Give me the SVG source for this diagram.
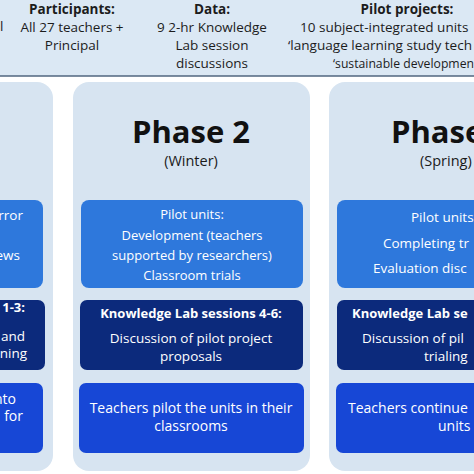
<svg xmlns="http://www.w3.org/2000/svg" width="474" height="474" viewBox="0 0 474 474">
<style>
text{font-family:"Open Sans","Noto Sans","Liberation Sans",sans-serif}
.band{fill:#dbe8f4}
.panel{fill:#d7e4f1}
.boxA{fill:#2e78dc}
.boxB{fill:#0c2a7c}
.boxC{fill:#1747d6}
.top{fill:#1c1c1c;font-size:13.5px}
.w{fill:#ffffff}
.b{font-weight:bold}
.title{fill:#111111;font-size:31px;font-weight:bold}
.sub{fill:#1a1a1a;font-size:14.5px}
.m{text-anchor:middle}
.e{text-anchor:end}
</style>
<rect width="474" height="474" fill="#ffffff"/>

<g id="header">
  <rect class="band" x="0" y="0" width="474" height="76"/>
  <line x1="0" y1="76" x2="474" y2="76" stroke="#51667f" stroke-width="1.6"/>
  <text class="top" x="0" y="31">l</text>
  <text class="top b m" x="72" y="13.5">Participants:</text>
  <text class="top m" x="72" y="31.5">All 27 teachers +</text>
  <text class="top m" x="72" y="49.5">Principal</text>
  <text class="top b m" x="212" y="13.5">Data:</text>
  <text class="top m" x="212" y="31.5">9 2-hr Knowledge</text>
  <text class="top m" x="212" y="49.5">Lab session</text>
  <text class="top m" x="212" y="68">discussions</text>
  <text class="top b m" x="407" y="13.5">Pilot projects:</text>
  <text class="top" x="300" y="31.5">10 subject-integrated units</text>
  <text class="top" x="288" y="49.5" textLength="184" lengthAdjust="spacingAndGlyphs">‘language learning study tech</text>
  <text class="top" x="333" y="68" textLength="141" lengthAdjust="spacingAndGlyphs">‘sustainable developmen</text>
</g>

<g id="phase1">
  <rect class="panel" x="-40" y="82" width="93" height="389" rx="16"/>
  <g id="phase1-units">
    <rect class="boxA" x="-30" y="200" width="73" height="88" rx="8"/>
    <text class="w e" font-size="13.5" x="23" y="220">rror</text>
    <text class="w e" font-size="13.5" x="20" y="260">ews</text>
  </g>
  <g id="phase1-lab">
    <rect class="boxB" x="-30" y="300" width="75" height="70" rx="7"/>
    <text class="w b e" font-size="13" x="25" y="312">1-3:</text>
    <text class="w e" font-size="13.5" x="25" y="341">and</text>
    <text class="w e" font-size="13.5" x="27" y="358">ning</text>
  </g>
  <g id="phase1-teachers">
    <rect class="boxC" x="-30" y="383" width="73" height="70" rx="7"/>
    <text class="w e" font-size="14" x="16" y="404">nto</text>
    <text class="w e" font-size="14" x="23" y="421">for</text>
  </g>
</g>

<g id="phase2">
  <rect class="panel" x="73" y="82" width="237" height="389" rx="16"/>
  <text class="title m" x="191" y="143">Phase 2</text>
  <text class="sub m" x="191" y="166">(Winter)</text>
  <g id="phase2-units">
    <rect class="boxA" x="81" y="200" width="222" height="88" rx="8"/>
    <text class="w m" font-size="13" x="192" y="219">Pilot units:</text>
    <text class="w m" font-size="13" x="192" y="240">Development (teachers</text>
    <text class="w m" font-size="13" x="192" y="260">supported by researchers)</text>
    <text class="w m" font-size="13" x="192" y="280">Classroom trials</text>
  </g>
  <g id="phase2-lab">
    <rect class="boxB" x="80" y="300" width="223" height="70" rx="7"/>
    <text class="w b m" font-size="13" x="191" y="318">Knowledge Lab sessions 4-6:</text>
    <text class="w m" font-size="13.5" x="191" y="343">Discussion of pilot project</text>
    <text class="w m" font-size="13.5" x="191" y="361">proposals</text>
  </g>
  <g id="phase2-teachers">
    <rect class="boxC" x="79" y="383" width="225" height="70" rx="7"/>
    <text class="w m" font-size="14" x="191" y="413">Teachers pilot the units in their</text>
    <text class="w m" font-size="14" x="191" y="431">classrooms</text>
  </g>
</g>

<g id="phase3">
  <rect class="panel" x="329" y="82" width="237" height="389" rx="16"/>
  <text class="title" x="391" y="143">Phase</text>
  <text class="sub" x="420" y="166">(Spring)</text>
  <g id="phase3-units">
    <rect class="boxA" x="337" y="200" width="222" height="88" rx="8"/>
    <text class="w" font-size="13.5" x="411" y="222">Pilot units</text>
    <text class="w" font-size="13.5" x="383" y="248">Completing tr</text>
    <text class="w" font-size="13.5" x="373" y="273">Evaluation disc</text>
  </g>
  <g id="phase3-lab">
    <rect class="boxB" x="337" y="300" width="223" height="70" rx="7"/>
    <text class="w b" font-size="13" x="352" y="318">Knowledge Lab se</text>
    <text class="w" font-size="13.5" x="362" y="343">Discussion of pil</text>
    <text class="w" font-size="13.5" x="424" y="361">trialing</text>
  </g>
  <g id="phase3-teachers">
    <rect class="boxC" x="336" y="383" width="225" height="70" rx="7"/>
    <text class="w" font-size="14" x="348" y="413">Teachers continue</text>
    <text class="w" font-size="14" x="438" y="431">units</text>
  </g>
</g>

<g id="connectors"/>
</svg>
